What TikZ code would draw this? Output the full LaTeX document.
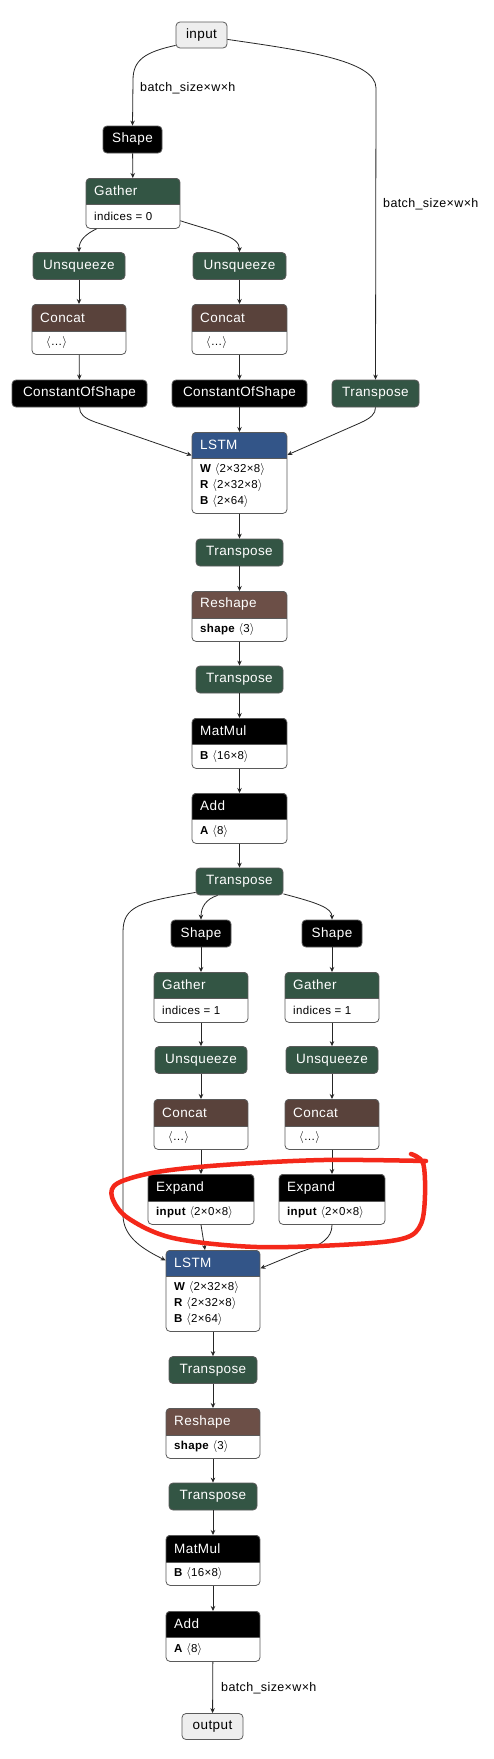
\documentclass[tikz,border=0pt]{standalone}
\usepackage{fontspec}
\setmainfont{Liberation Sans}[LetterSpace=3]
\usetikzlibrary{arrows.meta}
\definecolor{cTrans}{HTML}{335544}
\definecolor{cTensor}{HTML}{59423B}
\definecolor{cShape}{HTML}{6C4F47}
\definecolor{cLayer}{HTML}{335588}
\definecolor{framecol}{HTML}{5A5A5A}
\definecolor{cIO}{HTML}{EEEEEE}
\definecolor{cRed}{HTML}{F4281A}
\newcommand{\lA}{$\langle$}
\newcommand{\rA}{$\rangle$}
\newcommand{\OpNode}[9]{%
  \begin{scope}
    \clip[rounded corners=4pt] ({#2-#4/2},#3) rectangle ({#2+#4/2},{#3+#5+#6});
    \fill[#7] ({#2-#4/2},#3) rectangle ({#2+#4/2},{#3+#5});
    \fill[white] ({#2-#4/2},{#3+#5}) rectangle ({#2+#4/2},{#3+#5+#6});
  \end{scope}
  \node[opframe, minimum width=#4pt, minimum height={#5pt+#6pt}, anchor=north] (#1) at (#2,#3) {};
  \draw[framecol, line width=0.8pt] ({#2-#4/2},{#3+#5}) -- ({#2+#4/2},{#3+#5});
  \node[titletext, anchor=west] (#1-t) at ({#2-#4/2+8},{#3+#5/2}) {#8};
  \node[bodytext, anchor=west] (#1-b) at ({#2-#4/2+8},{#3+#5+#6/2}) {#9};
}
\begin{document}
\begin{tikzpicture}[x=1pt,y=-1pt,
  opframe/.style={draw=framecol, line width=0.8pt, rounded corners=4pt, inner sep=0pt},
  titletext/.style={text=white, inner sep=0pt, font=\fontsize{13.5}{16}\selectfont},
  bodytext/.style={text=black, inner sep=0pt, align=left, font=\fontsize{11.5}{16}\selectfont},
  simple/.style={draw=framecol, line width=0.8pt, rounded corners=4pt, inner sep=0pt,
     minimum height=27pt, text=white, font=\fontsize{13.5}{16}\selectfont},
  ionode/.style={simple, fill=cIO, text=black, minimum height=26pt},
  lbl/.style={inner sep=0pt, font=\fontsize{12.5}{15}\selectfont},
  conn/.style={draw=black!85, line width=0.8pt, -{Stealth[length=5pt,width=4.5pt]}},
  redmark/.style={draw=cRed, line width=4.5pt, line cap=round, line join=round}
]
\useasboundingbox (0,0) rectangle (493,1759);
\fill[white] (0,0) rectangle (493,1759);

% ---------- top part ----------
\node[ionode, minimum width=51pt] (in) at (201.5,35) {input};
\node[simple, fill=black, minimum width=59pt] (sh1) at (132.5,139.5) {Shape};
\OpNode{g1}{133}{178}{94}{26}{24}{cTrans}{Gather}{indices = 0}
\node[simple, fill=cTrans, minimum width=92pt] (uqL) at (79,266) {Unsqueeze};
\node[simple, fill=cTrans, minimum width=93pt] (uqR) at (239.5,266) {Unsqueeze};
\OpNode{ccL}{79}{304}{94}{27}{23}{cTensor}{Concat}{\hspace{6pt}\lA…\rA}
\OpNode{ccR}{239.5}{304}{95}{27}{23}{cTensor}{Concat}{\hspace{6pt}\lA…\rA}
\node[simple, fill=black, minimum width=135pt] (cosL) at (79.5,393.5) {ConstantOfShape};
\node[simple, fill=black, minimum width=135pt] (cosR) at (239.5,393.5) {ConstantOfShape};
\node[simple, fill=cTrans, minimum width=87pt] (trA) at (375.5,393.5) {Transpose};

\OpNode{ls1}{239.5}{432}{95}{26}{55}{cLayer}{LSTM}{\textbf{W} \lA2×32×8\rA\\\textbf{R} \lA2×32×8\rA\\\textbf{B} \lA2×64\rA}
\node[simple, fill=cTrans, minimum width=87pt] (trB) at (239.5,552.5) {Transpose};
\OpNode{rs1}{239.5}{591}{95}{27}{23}{cShape}{Reshape}{\textbf{shape} \lA3\rA}
\node[simple, fill=cTrans, minimum width=87pt] (trC) at (239.5,679.5) {Transpose};
\OpNode{mm1}{239.5}{718}{95}{26}{24}{black}{MatMul}{\textbf{B} \lA16×8\rA}
\OpNode{ad1}{239.5}{793}{95}{26}{24}{black}{Add}{\textbf{A} \lA8\rA}
\node[simple, fill=cTrans, minimum width=87pt] (trD) at (239.5,881.5) {Transpose};

% ---------- middle part ----------
\node[simple, fill=black, minimum width=60pt] (shL) at (201,933.5) {Shape};
\node[simple, fill=black, minimum width=60pt] (shR) at (332,933.5) {Shape};
\OpNode{gL}{201}{972}{94}{26}{24}{cTrans}{Gather}{indices = 1}
\OpNode{gR}{332}{972}{94}{26}{24}{cTrans}{Gather}{indices = 1}
\node[simple, fill=cTrans, minimum width=92pt] (uqL2) at (201,1060) {Unsqueeze};
\node[simple, fill=cTrans, minimum width=92pt] (uqR2) at (332,1060) {Unsqueeze};
\OpNode{ccL2}{201}{1099}{94}{27}{23}{cTensor}{Concat}{\hspace{6pt}\lA…\rA}
\OpNode{ccR2}{332}{1099}{94}{27}{23}{cTensor}{Concat}{\hspace{6pt}\lA…\rA}
\OpNode{exL}{201}{1174}{106}{27}{23}{black}{Expand}{\textbf{input} \lA2×0×8\rA}
\OpNode{exR}{332}{1174}{106}{27}{23}{black}{Expand}{\textbf{input} \lA2×0×8\rA}

% ---------- bottom part ----------
\OpNode{ls2}{213}{1250}{94}{26}{55}{cLayer}{LSTM}{\textbf{W} \lA2×32×8\rA\\\textbf{R} \lA2×32×8\rA\\\textbf{B} \lA2×64\rA}
\node[simple, fill=cTrans, minimum width=88pt] (trE) at (213,1370) {Transpose};
\OpNode{rs2}{213}{1408}{94}{27}{23}{cShape}{Reshape}{\textbf{shape} \lA3\rA}
\node[simple, fill=cTrans, minimum width=88pt] (trF) at (213,1496.5) {Transpose};
\OpNode{mm2}{213}{1535}{94}{27}{23}{black}{MatMul}{\textbf{B} \lA16×8\rA}
\OpNode{ad2}{213}{1611}{94}{26}{24}{black}{Add}{\textbf{A} \lA8\rA}
\node[ionode, minimum width=61pt] (out) at (212.5,1726.5) {output};

% ---------- labels ----------
\node[lbl, anchor=west] (lab1) at (140,88) {batch\_size×w×h};
\node[lbl, anchor=west] (lab2) at (383,204) {batch\_size×w×h};
\node[lbl, anchor=west] (lab3) at (221,1688) {batch\_size×w×h};

% ---------- connectors ----------
\draw[conn] ([yshift=3pt]in.south west) .. controls (145,52) and (133,60) .. (133,80) -- (sh1.north);
\draw[conn] ([yshift=9pt]in.south east) .. controls (300,50) and (376,60) .. (376,88) -- (trA.north);
\draw[conn] (sh1) -- (g1);
\draw[conn] ([xshift=11pt]g1.south west) .. controls (86,234) and (79,240) .. (uqL.north);
\draw[conn] ([yshift=8pt]g1.south east) .. controls (215,232) and (239.5,236) .. (uqR.north);
\draw[conn] (uqL) -- (ccL);
\draw[conn] (uqR) -- (ccR);
\draw[conn] (ccL) -- (cosL);
\draw[conn] (ccR) -- (cosR);
\draw[conn] (cosL.south) .. controls (79.5,414) and (84,418) .. (95,422) -- ([yshift=17.5pt]ls1.west);
\draw[conn] (cosR) -- (ls1);
\draw[conn] (trA.south) .. controls (375.5,414) and (371,418) .. (360,423) -- ([yshift=18pt]ls1.east);
\draw[conn] (ls1) -- (trB);
\draw[conn] (trB) -- (rs1);
\draw[conn] (rs1) -- (trC);
\draw[conn] (trC) -- (mm1);
\draw[conn] (mm1) -- (ad1);
\draw[conn] (ad1) -- (trD);
\draw[conn] ([xshift=22pt]trD.south west) .. controls (206,899) and (201,907) .. (shL.north);
\draw[conn] ([yshift=1.5pt]trD.south east) .. controls (318,903) and (332,908) .. (shR.north);
\draw[conn] ([yshift=3pt]trD.south west) .. controls (140,902) and (123,906) .. (123,932) -- (123,1215) .. controls (123,1238) and (145,1250) .. ([yshift=30.5pt]ls2.west);
\draw[conn] (shL) -- (gL);
\draw[conn] (shR) -- (gR);
\draw[conn] (gL) -- (uqL2);
\draw[conn] (gR) -- (uqR2);
\draw[conn] (uqL2) -- (ccL2);
\draw[conn] (uqR2) -- (ccR2);
\draw[conn] (ccL2) -- (exL);
\draw[conn] (ccR2) -- (exR);
\draw[conn] (exL.south) -- ([xshift=-8pt]ls2.north);
\draw[conn] (exR.south) .. controls (332,1238) and (322,1245) .. (300,1252) -- ([yshift=22.5pt]ls2.east);
\draw[conn] (ls2) -- (trE);
\draw[conn] (trE) -- (rs2);
\draw[conn] (rs2) -- (trF);
\draw[conn] (trF) -- (mm2);
\draw[conn] (mm2) -- (ad2);
\draw[conn] (ad2) -- (out);

% ---------- red annotation ----------
\draw[redmark] plot[smooth, tension=0.55] coordinates {
  (411,1154) (423,1163) (425,1195) (421,1224) (405,1238) (357,1244)
  (257,1247) (173,1238) (128,1218) (112,1197) (118,1183) (157,1172)
  (223,1165) (323,1160) (426,1161)};
\end{tikzpicture}
\end{document}
